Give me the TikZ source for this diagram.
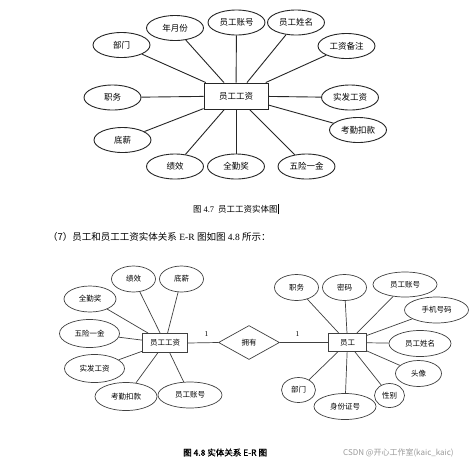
\documentclass[tikz,border=0pt]{standalone}
\usepackage{fontspec}
\setmainfont{Liberation Serif}
\newfontfamily\cjk{Noto Sans CJK SC}
\newfontfamily\cjkbold[FakeBold=1.2]{Noto Sans CJK SC}
\usetikzlibrary{shapes.geometric}
\begin{document}
\begin{tikzpicture}[x=1pt,y=-1pt,
  attrA/.style={draw=black!85,ellipse,line width=0.9pt,minimum width=57pt,minimum height=25pt,inner sep=0pt,font=\cjk\fontsize{8.5}{10}\selectfont},
  entA/.style={draw=black!85,rectangle,line width=0.9pt,minimum width=64pt,minimum height=26pt,inner sep=0pt,font=\cjk\fontsize{8.5}{10}\selectfont},
  linkA/.style={draw=black!85,line width=0.9pt},
  attrB/.style={draw=black!75,ellipse,line width=0.7pt,inner sep=0pt,font=\cjk\fontsize{7.5}{9}\selectfont},
  entB/.style={draw=black!75,rectangle,line width=0.7pt,inner sep=0pt,font=\cjk\fontsize{7.5}{9}\selectfont},
  linkB/.style={draw=black!75,line width=0.7pt},
  card/.style={inner sep=0pt,font=\fontsize{7.5}{9}\selectfont}
]
\useasboundingbox (0,0) rectangle (474,467);
\fill[white] (0,0) rectangle (474,467);

% ---------- Figure 4.7 ----------
\node[entA] (wage) at (236,96) {员工工资};
\node[attrA] (a1) at (175,28) {年月份};
\node[attrA] (a2) at (236.5,22.5) {员工账号};
\node[attrA] (a3) at (296,22.5) {员工姓名};
\node[attrA] (a4) at (346.5,46) {工资备注};
\node[attrA] (a5) at (121.5,45) {部门};
\node[attrA] (a6) at (112.5,97.5) {职务};
\node[attrA] (a7) at (350,97.5) {实发工资};
\node[attrA] (a8) at (358,130) {考勤扣款};
\node[attrA] (a9) at (122.5,140) {底薪};
\node[attrA] (a10) at (175,166.5) {绩效};
\node[attrA] (a11) at (236,166.5) {全勤奖};
\node[attrA] (a12) at (306.5,166.5) {五险一金};
\foreach \i in {1,...,12} {\path[linkA] (wage) -- (a\i);}

\node[inner sep=0pt,anchor=west,font=\cjk\fontsize{8.5}{10}\selectfont] (cap1) at (193,209) {图 {\rmfamily 4.7}\ \ 员工工资实体图};
\draw[line width=0.6pt] ([xshift=0.8pt,yshift=-5pt]cap1.east) -- ([xshift=0.8pt,yshift=5pt]cap1.east);

\node[inner sep=0pt,anchor=west,font=\fontsize{9.5}{11}\selectfont] (para) at (48,236.5)
  {{\cjk （7）员工和员工工资实体关系} E-R {\cjk 图如图} 4.8 {\cjk 所示：}};

% ---------- Figure 4.8 ----------
\node[entB,minimum width=45pt,minimum height=19pt] (wb) at (165,343) {员工工资};
\node[attrB,minimum width=44pt,minimum height=26pt] (b1) at (133.5,279) {绩效};
\node[attrB,minimum width=44pt,minimum height=26pt] (b2) at (181.5,279) {底薪};
\node[attrB,minimum width=52pt,minimum height=26pt] (b3) at (90,299) {全勤奖};
\node[attrB,minimum width=60pt,minimum height=28pt] (b4) at (89.5,333.5) {五险一金};
\node[attrB,minimum width=60pt,minimum height=28pt] (b5) at (94.5,368.5) {实发工资};
\node[attrB,minimum width=62pt,minimum height=28pt] (b6) at (126,396.5) {考勤扣款};
\node[attrB,minimum width=64pt,minimum height=26pt] (b7) at (190,395) {员工账号};
\foreach \i in {1,...,7} {\path[linkB] (wb) -- (b\i);}

\node[draw=black!75,line width=0.7pt,diamond,aspect=1.8,minimum width=61pt,minimum height=34pt,inner sep=0pt,font=\cjk\fontsize{7.5}{9}\selectfont] (rel) at (249,342.5) {拥有};
\node[entB,minimum width=38pt,minimum height=18pt] (emp) at (347.5,342.5) {员工};
\path[linkB] (wb.east) -- (rel.west);
\path[linkB] (rel.east) -- (emp.west);
\node[card] (c1) at (206.5,334) {1};
\node[card] (c2) at (297.5,334) {1};

\node[attrB,minimum width=44pt,minimum height=26pt] (e1) at (296.5,287.5) {职务};
\node[attrB,minimum width=44pt,minimum height=26pt] (e2) at (344.5,287.5) {密码};
\node[attrB,minimum width=64pt,minimum height=25pt] (e3) at (405,284.5) {员工账号};
\node[attrB,minimum width=64pt,minimum height=26pt] (e4) at (436.5,310) {手机号码};
\node[attrB,minimum width=62pt,minimum height=26pt] (e5) at (420,343.5) {员工姓名};
\node[attrB,minimum width=46pt,minimum height=26pt] (e6) at (418.5,373.5) {头像};
\node[attrB,minimum width=30pt,minimum height=24pt] (e7) at (389.5,395.5) {性别};
\node[attrB,minimum width=62pt,minimum height=26pt] (e8) at (345,406.5) {身份证号};
\node[attrB,minimum width=34pt,minimum height=25pt] (e9) at (298.5,390) {部门};
\foreach \i in {1,...,9} {\path[linkB] (emp) -- (e\i);}

\node[inner sep=0pt,anchor=west,font=\cjkbold\fontsize{8.5}{10}\selectfont] (cap2) at (183,452.5) {图 4.8 实体关系 E-R 图};
\node[inner sep=0pt,anchor=west,text=black!40,font=\cjk\fontsize{8}{10}\selectfont] (wm) at (343,452.5) {CSDN @开心工作室(kaic\_kaic)};
\end{tikzpicture}
\end{document}
